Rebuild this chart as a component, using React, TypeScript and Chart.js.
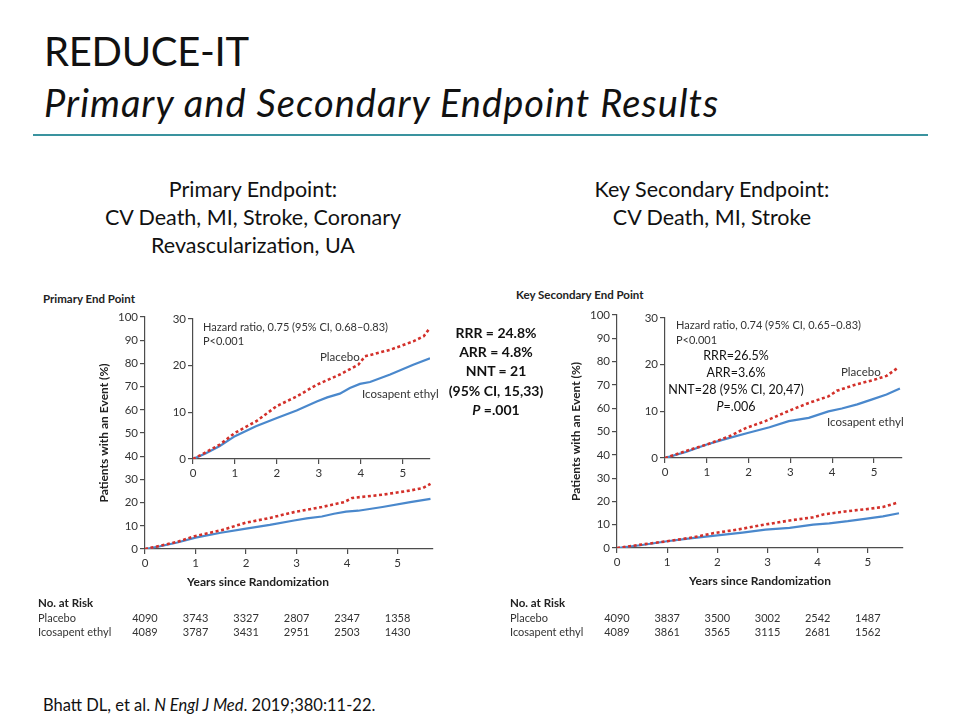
import React, { useEffect, useRef } from "react";
import { Chart, registerables } from "chart.js";

Chart.register(...registerables);

// ---------- DATA ----------
const yearTicks = [0, 1, 2, 3, 4, 5];

// Primary end point (cumulative % with event)
const primaryPlaceboYears = [0, 0.3, 0.64, 1.0, 1.51, 1.99, 2.47, 2.95, 3.5, 3.94, 4.1, 4.7, 5.25, 5.5, 5.65];
const primaryPlaceboPct = [0, 1.4, 3.1, 5.6, 8.1, 11.3, 13.4, 15.9, 18.1, 20.2, 22.0, 23.4, 25.2, 26.3, 28.1];
const primaryIcoYears = [0, 0.3, 0.64, 1.0, 1.5, 2.0, 2.47, 2.95, 3.2, 3.5, 3.74, 3.98, 4.22, 4.7, 5.25, 5.65];
const primaryIcoPct = [0, 1.2, 2.8, 4.9, 7.0, 8.8, 10.4, 12.3, 13.2, 14.0, 15.2, 16.1, 16.5, 18.1, 20.2, 21.6];

// Key secondary end point
const secondaryPlaceboYears = [0, 0.5, 1.0, 1.53, 1.93, 2.4, 2.96, 3.44, 3.91, 4.11, 4.55, 5.02, 5.3, 5.58];
const secondaryPlaceboPct = [0, 1.5, 2.9, 4.6, 6.4, 7.9, 10.1, 11.8, 13.2, 14.4, 15.7, 16.8, 17.6, 19.4];
const secondaryIcoYears = [0, 0.5, 1.0, 1.5, 2.0, 2.5, 2.96, 3.44, 3.91, 4.23, 4.6, 4.94, 5.3, 5.62];
const secondaryIcoPct = [0, 1.3, 2.9, 4.2, 5.4, 6.6, 7.9, 8.6, 10.0, 10.6, 11.5, 12.5, 13.6, 14.9];

// Numbers at risk
const primaryRiskPlacebo = [4090, 3743, 3327, 2807, 2347, 1358];
const primaryRiskIco = [4089, 3787, 3431, 2951, 2503, 1430];
const secondaryRiskPlacebo = [4090, 3837, 3500, 3002, 2542, 1487];
const secondaryRiskIco = [4089, 3861, 3565, 3115, 2681, 1562];

const seriesNames = ["Placebo", "Icosapent ethyl"];
const xTitleText = "Years since Randomization";
const yTitleText = "Patients with an Event (%)";

// ---------- STYLE ----------
const RED = "#d3302a";
const BLUE = "#4a88cc";
const AXIS = "#4d4d4d";
const TXT = "#333333";
const CHART_FONT = "Lato, 'Open Sans', sans-serif";
const SLIDE_FONT = "Lato, 'Open Sans', sans-serif";

function pts(xs: number[], ys: number[]) {
  return xs.map((x, i) => ({ x, y: ys[i] }));
}

type KMOpts = {
  placebo: { x: number; y: number }[];
  ico: { x: number; y: number }[];
  xMax: number;
  yMax: number;
  yWidth: number;
  xHeight: number;
  xTitle: boolean;
  yTitle: boolean;
  padTop: number;
  padRight: number;
};

function kmConfig(o: KMOpts): any {
  return {
    type: "line",
    data: {
      datasets: [
        {
          label: seriesNames[0],
          data: o.placebo,
          borderColor: RED,
          borderWidth: 2.6,
          borderDash: [3, 2.6],
          pointRadius: 0,
          tension: 0,
          fill: false,
        },
        {
          label: seriesNames[1],
          data: o.ico,
          borderColor: BLUE,
          borderWidth: 2.2,
          pointRadius: 0,
          tension: 0,
          fill: false,
        },
      ],
    },
    options: {
      responsive: false,
      animation: false,
      events: [],
      layout: { padding: { top: o.padTop, right: o.padRight, left: 0, bottom: 0 } },
      plugins: { legend: { display: false }, tooltip: { enabled: false } },
      scales: {
        x: {
          type: "linear",
          min: 0,
          max: o.xMax,
          afterFit: (s: any) => {
            s.height = o.xHeight;
          },
          border: { display: true, color: AXIS, width: 1.2 },
          grid: { drawOnChartArea: false, drawTicks: true, tickLength: 5, color: AXIS, lineWidth: 1.2 },
          afterBuildTicks: (s: any) => {
            s.ticks = yearTicks.map((v) => ({ value: v }));
          },
          ticks: {
            autoSkip: false,
            maxRotation: 0,
            padding: 2,
            color: TXT,
            font: { family: CHART_FONT, size: 11.5 },
            callback: (v: any) => String(v),
          },
          title: {
            display: o.xTitle,
            text: xTitleText,
            color: "#222",
            padding: { top: 0, bottom: 0 },
            font: { family: CHART_FONT, size: 12, weight: "bold" },
          },
        },
        y: {
          type: "linear",
          min: 0,
          max: o.yMax,
          afterFit: (s: any) => {
            s.width = o.yWidth;
          },
          border: { display: true, color: AXIS, width: 1.2 },
          grid: { drawOnChartArea: false, drawTicks: true, tickLength: 5, color: AXIS, lineWidth: 1.2 },
          ticks: {
            stepSize: 10,
            padding: 2,
            color: TXT,
            font: { family: CHART_FONT, size: 11.5 },
          },
          title: {
            display: o.yTitle,
            text: yTitleText,
            color: "#222",
            padding: { top: 1, bottom: 0 },
            font: { family: CHART_FONT, size: 12, weight: "bold" },
          },
        },
      },
    },
  };
}

function ChartCanvas(props: { left: number; top: number; width: number; height: number; config: any }) {
  const ref = useRef<HTMLCanvasElement>(null);
  useEffect(() => {
    const chart = new Chart(ref.current as HTMLCanvasElement, props.config);
    return () => chart.destroy();
  }, []);
  return (
    <canvas
      ref={ref}
      width={props.width}
      height={props.height}
      style={{ position: "absolute", left: props.left, top: props.top, width: props.width, height: props.height }}
    />
  );
}

function Txt(props: { x: number; y: number; children: any; size?: number; bold?: boolean; italic?: boolean; center?: boolean; color?: string; font?: string }) {
  const size = props.size ?? 11;
  return (
    <div
      style={{
        position: "absolute",
        left: props.x,
        top: props.y - size * 0.6,
        lineHeight: `${size * 1.2}px`,
        fontSize: size,
        fontFamily: props.font ?? CHART_FONT,
        fontWeight: props.bold ? 700 : 400,
        fontStyle: props.italic ? "italic" : "normal",
        color: props.color ?? TXT,
        whiteSpace: "nowrap",
        transform: props.center ? "translateX(-50%)" : undefined,
      }}
    >
      {props.children}
    </div>
  );
}

function RiskTable(props: { x0: number; colX: (i: number) => number; y: number; placebo: number[]; ico: number[] }) {
  const rows = [props.placebo, props.ico];
  return (
    <>
      <Txt x={props.x0} y={props.y} size={11.5} bold color="#222">No. at Risk</Txt>
      {rows.map((r, ri) => (
        <React.Fragment key={ri}>
          <Txt x={props.x0} y={props.y + 14.5 + ri * 14.5} size={11}>{seriesNames[ri]}</Txt>
          {r.map((v, i) => (
            <Txt key={i} x={props.colX(i)} y={props.y + 14.5 + ri * 14.5} size={11} center>
              {v}
            </Txt>
          ))}
        </React.Fragment>
      ))}
    </>
  );
}

export default function App() {
  const primaryPlacebo = pts(primaryPlaceboYears, primaryPlaceboPct);
  const primaryIco = pts(primaryIcoYears, primaryIcoPct);
  const secondaryPlacebo = pts(secondaryPlaceboYears, secondaryPlaceboPct);
  const secondaryIco = pts(secondaryIcoYears, secondaryIcoPct);

  const mainL = kmConfig({ placebo: primaryPlacebo, ico: primaryIco, xMax: 5.7, yMax: 100, yWidth: 49, xHeight: 40, xTitle: false, yTitle: true, padTop: 10, padRight: 6 });
  const insetL = kmConfig({ placebo: primaryPlacebo, ico: primaryIco, xMax: 5.65, yMax: 30, yWidth: 30, xHeight: 22, xTitle: false, yTitle: false, padTop: 10, padRight: 4 });
  const mainR = kmConfig({ placebo: secondaryPlacebo, ico: secondaryIco, xMax: 5.7, yMax: 100, yWidth: 49, xHeight: 40, xTitle: true, yTitle: true, padTop: 10, padRight: 6 });
  const insetR = kmConfig({ placebo: secondaryPlacebo, ico: secondaryIco, xMax: 5.67, yMax: 30, yWidth: 30, xHeight: 22, xTitle: false, yTitle: false, padTop: 10, padRight: 4 });

  const colL = (i: number) => 145 + i * (288 / 5.7);
  const colR = (i: number) => 617 + i * (286 / 5.7);

  const headStyle: React.CSSProperties = { position: "absolute", top: 175, transform: "translateX(-50%)", textAlign: "center", fontFamily: SLIDE_FONT, fontSize: 21.5, lineHeight: "28px", color: "#111", whiteSpace: "nowrap" };

  return (
    <div style={{ position: "absolute", left: 0, top: 0, width: 960, height: 720, background: "#fff", overflow: "hidden" }}>
      {/* Title */}
      <div style={{ position: "absolute", left: 44, top: 27, fontFamily: SLIDE_FONT, fontSize: 40, lineHeight: "48px", color: "#111", letterSpacing: -0.3 }}>REDUCE-IT</div>
      <div style={{ position: "absolute", left: 44, top: 79, fontFamily: SLIDE_FONT, fontSize: 38, lineHeight: "46px", fontStyle: "italic", color: "#111", letterSpacing: 1.05, whiteSpace: "nowrap" }}>
        Primary and Secondary Endpoint Results
      </div>
      <div style={{ position: "absolute", left: 33, top: 134, width: 895, height: 2, background: "#3a939f" }} />

      {/* Panel headings */}
      <div style={{ ...headStyle, left: 253 }}>
        Primary Endpoint:<br />CV Death, MI, Stroke, Coronary<br />Revascularization, UA
      </div>
      <div style={{ ...headStyle, left: 712 }}>
        Key Secondary Endpoint:<br />CV Death, MI, Stroke
      </div>

      {/* Left panel */}
      <Txt x={43} y={299} size={11.5} bold color="#222">Primary End Point</Txt>
      <ChartCanvas left={96} top={307} width={343} height={282} config={mainL} />
      <ChartCanvas left={163} top={309} width={271} height={172} config={insetL} />
      <Txt x={258} y={582} size={12} bold center color="#222">{xTitleText}</Txt>
      <Txt x={203} y={327}>Hazard ratio, 0.75 (95% CI, 0.68–0.83)</Txt>
      <Txt x={203} y={341}>P&lt;0.001</Txt>
      <Txt x={320} y={357} size={11.5}>Placebo</Txt>
      <Txt x={362} y={394} size={11.5}>Icosapent ethyl</Txt>
      <RiskTable x0={38} colX={colL} y={603} placebo={primaryRiskPlacebo} ico={primaryRiskIco} />

      {/* Center stats */}
      <div style={{ position: "absolute", left: 496, top: 323, transform: "translateX(-50%)", textAlign: "center", fontFamily: SLIDE_FONT, fontWeight: 700, fontSize: 14, lineHeight: "19.2px", color: "#111", whiteSpace: "nowrap" }}>
        RRR = 24.8%<br />ARR = 4.8%<br />NNT = 21<br />(95% CI, 15,33)<br /><i>P</i> =.001
      </div>

      {/* Right panel */}
      <Txt x={516} y={295} size={11.5} bold color="#222">Key Secondary End Point</Txt>
      <ChartCanvas left={568} top={305} width={341} height={283} config={mainR} />
      <ChartCanvas left={635} top={308} width={271} height={172} config={insetR} />
      <Txt x={676} y={325}>Hazard ratio, 0.74 (95% CI, 0.65–0.83)</Txt>
      <Txt x={676} y={340}>P&lt;0.001</Txt>
      <div style={{ position: "absolute", left: 736, top: 347, transform: "translateX(-50%)", textAlign: "center", fontFamily: SLIDE_FONT, fontSize: 12.5, lineHeight: "17px", color: "#111", whiteSpace: "nowrap" }}>
        RRR=26.5%<br />ARR=3.6%<br />NNT=28 (95% CI, 20,47)<br /><i>P</i>=.006
      </div>
      <Txt x={841} y={372} size={11.5}>Placebo</Txt>
      <Txt x={827} y={422} size={11.5}>Icosapent ethyl</Txt>
      <RiskTable x0={510} colX={colR} y={603} placebo={secondaryRiskPlacebo} ico={secondaryRiskIco} />

      {/* Citation */}
      <div style={{ position: "absolute", left: 43, top: 695, fontFamily: SLIDE_FONT, fontSize: 16.5, lineHeight: "20px", color: "#111", whiteSpace: "nowrap" }}>
        Bhatt DL, et al. <i>N Engl J Med</i>. 2019;380:11-22.
      </div>
    </div>
  );
}
